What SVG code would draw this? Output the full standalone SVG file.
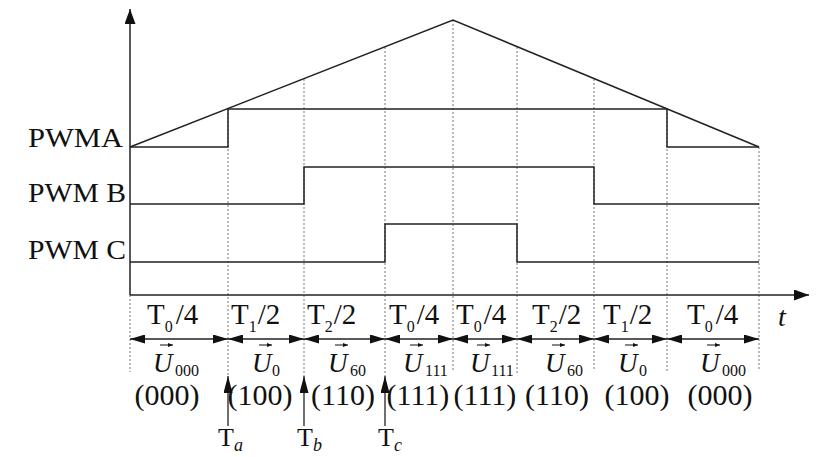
<svg xmlns="http://www.w3.org/2000/svg" width="824" height="457" viewBox="0 0 824 457">
<defs>
<style>
.bg{fill:#fff}
.ln{stroke:#222;stroke-width:1.5;fill:none}
.dot{stroke:#777;stroke-width:1;stroke-dasharray:2,2;fill:none}
.arr{stroke:#222;stroke-width:1.3;fill:none}
.tx{font-family:"Liberation Serif","Times New Roman",serif;fill:#111}
.lbl{font-size:28px}
.seg{font-size:29px}
.sub{font-size:16px}
.code{font-size:30px}
.it{font-style:italic}
</style>
<marker id="ah" viewBox="0 0 15 9" refX="15" refY="4.5" markerWidth="15" markerHeight="9" markerUnits="userSpaceOnUse" orient="auto-start-reverse">
<path d="M0,0 L15,4.5 L0,9 z" fill="#111"/>
</marker>
<marker id="ax" viewBox="0 0 15 11" refX="15" refY="5.5" markerWidth="15" markerHeight="11" markerUnits="userSpaceOnUse" orient="auto">
<path d="M0,0 L15,5.5 L0,11 z" fill="#111"/>
</marker>
<marker id="up" viewBox="0 0 17 9" refX="17" refY="4.5" markerWidth="17" markerHeight="9" markerUnits="userSpaceOnUse" orient="auto">
<path d="M0,0 L17,4.5 L0,9 z" fill="#111"/>
</marker>
<marker id="vec" viewBox="0 0 5 4" refX="5" refY="2" markerWidth="5" markerHeight="4" markerUnits="userSpaceOnUse" orient="auto">
<path d="M0,0 L5,2 L0,4 z" fill="#111"/>
</marker>
</defs>
<rect class="bg" x="0" y="0" width="824" height="457"/>

<g id="gridlines">
<line class="dot" x1="130" y1="295" x2="130" y2="372"/>
<line class="dot" x1="228" y1="109" x2="228" y2="376"/>
<line class="dot" x1="304" y1="79" x2="304" y2="376"/>
<line class="dot" x1="385" y1="47" x2="385" y2="376"/>
<line class="dot" x1="453" y1="20" x2="453" y2="371"/>
<line class="dot" x1="517" y1="47" x2="517" y2="373"/>
<line class="dot" x1="594" y1="79" x2="594" y2="371"/>
<line class="dot" x1="667" y1="109" x2="667" y2="371"/>
<line class="dot" x1="759" y1="147" x2="759" y2="371"/>
</g>

<g id="carrier">
<polyline class="ln" points="130,147 453,20 759,147"/>
</g>

<g id="pwmA">
<polyline class="ln" points="130,147 228,147 228,109 667,109 667,147 759,147"/>
</g>
<g id="pwmB">
<polyline class="ln" points="130,204 304,204 304,167 594,167 594,204 759,204"/>
</g>
<g id="pwmC">
<polyline class="ln" points="130,262 385,262 385,224 517,224 517,262 759,262"/>
</g>

<g id="connectors">
<line class="ln" x1="130" y1="295" x2="130" y2="9" marker-end="url(#ax)"/>
<line class="ln" x1="130" y1="295" x2="809" y2="295" marker-end="url(#ax)"/>
<line class="arr" x1="130" y1="339" x2="228" y2="339" marker-start="url(#ah)" marker-end="url(#ah)"/>
<line class="arr" x1="228" y1="339" x2="304" y2="339" marker-start="url(#ah)" marker-end="url(#ah)"/>
<line class="arr" x1="304" y1="339" x2="385" y2="339" marker-start="url(#ah)" marker-end="url(#ah)"/>
<line class="arr" x1="385" y1="339" x2="453" y2="339" marker-start="url(#ah)" marker-end="url(#ah)"/>
<line class="arr" x1="453" y1="339" x2="517" y2="339" marker-start="url(#ah)" marker-end="url(#ah)"/>
<line class="arr" x1="517" y1="339" x2="594" y2="339" marker-start="url(#ah)" marker-end="url(#ah)"/>
<line class="arr" x1="594" y1="339" x2="667" y2="339" marker-start="url(#ah)" marker-end="url(#ah)"/>
<line class="arr" x1="667" y1="339" x2="759" y2="339" marker-start="url(#ah)" marker-end="url(#ah)"/>
<line class="arr" x1="228" y1="426" x2="228" y2="376" marker-end="url(#up)"/>
<line class="arr" x1="304" y1="426" x2="304" y2="376" marker-end="url(#up)"/>
<line class="arr" x1="385" y1="426" x2="385" y2="376" marker-end="url(#up)"/>
</g>

<g id="labels-left" class="tx lbl">
<text x="28" y="147" textLength="95" lengthAdjust="spacingAndGlyphs">PWMA</text>
<text x="28" y="202" textLength="98" lengthAdjust="spacingAndGlyphs">PWM B</text>
<text x="28" y="259" textLength="98" lengthAdjust="spacingAndGlyphs">PWM C</text>
<text class="it" x="778" y="326">t</text>
</g>

<g id="durations" class="tx seg">
<text x="147" y="324">T<tspan class="sub" dy="8">0</tspan><tspan dx="3" dy="-8">/4</tspan></text>
<text x="231" y="324">T<tspan class="sub" dy="8">1</tspan><tspan dx="1" dy="-8">/2</tspan></text>
<text x="307" y="324">T<tspan class="sub" dy="8">2</tspan><tspan dx="1" dy="-8">/2</tspan></text>
<text x="389" y="324">T<tspan class="sub" dy="8">0</tspan><tspan dx="2" dy="-8">/4</tspan></text>
<text x="456" y="324">T<tspan class="sub" dy="8">0</tspan><tspan dx="2" dy="-8">/4</tspan></text>
<text x="532" y="324">T<tspan class="sub" dy="8">2</tspan><tspan dx="1" dy="-8">/2</tspan></text>
<text x="603" y="324">T<tspan class="sub" dy="8">1</tspan><tspan dx="1" dy="-8">/2</tspan></text>
<text x="687" y="324">T<tspan class="sub" dy="8">0</tspan><tspan dx="3" dy="-8">/4</tspan></text>
</g>

<g id="vectors">
<g class="tx" style="font-size:27px">
<text class="it" x="153" y="372">U</text><text class="sub" x="175" y="376">000</text>
<text class="it" x="252" y="372">U</text><text class="sub" x="272" y="376">0</text>
<text class="it" x="328" y="372">U</text><text class="sub" x="350" y="376">60</text>
<text class="it" x="403" y="372">U</text><text class="sub" x="425" y="376">111</text>
<text class="it" x="470" y="372">U</text><text class="sub" x="491" y="376">111</text>
<text class="it" x="545" y="372">U</text><text class="sub" x="567" y="376">60</text>
<text class="it" x="618" y="372">U</text><text class="sub" x="639" y="376">0</text>
<text class="it" x="700" y="372">U</text><text class="sub" x="722" y="376">000</text>
</g>
<g stroke="#111" stroke-width="1">
<line x1="160" y1="345" x2="173" y2="345" marker-end="url(#vec)"/>
<line x1="259" y1="345" x2="272" y2="345" marker-end="url(#vec)"/>
<line x1="335" y1="345" x2="348" y2="345" marker-end="url(#vec)"/>
<line x1="410" y1="345" x2="423" y2="345" marker-end="url(#vec)"/>
<line x1="477" y1="345" x2="490" y2="345" marker-end="url(#vec)"/>
<line x1="552" y1="345" x2="565" y2="345" marker-end="url(#vec)"/>
<line x1="625" y1="345" x2="638" y2="345" marker-end="url(#vec)"/>
<line x1="707" y1="345" x2="720" y2="345" marker-end="url(#vec)"/>
</g>
</g>

<g id="codes" class="tx code" text-anchor="middle">
<text x="167" y="405">(000)</text>
<text x="260" y="405">(100)</text>
<text x="343" y="405">(110)</text>
<text x="418" y="405">(111)</text>
<text x="485" y="405">(111)</text>
<text x="557" y="405">(110)</text>
<text x="637" y="405">(100)</text>
<text x="720" y="405">(000)</text>
</g>

<g id="instants" class="tx" style="font-size:26px">
<text x="218" y="446">T<tspan class="it" style="font-size:18px" dy="5">a</tspan></text>
<text x="297" y="446">T<tspan class="it" style="font-size:18px" dy="5">b</tspan></text>
<text x="378" y="446">T<tspan class="it" style="font-size:18px" dy="5">c</tspan></text>
</g>
</svg>
